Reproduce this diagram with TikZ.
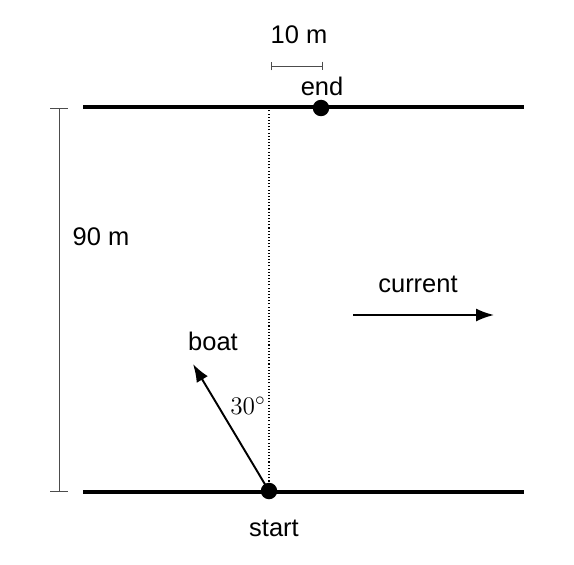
\documentclass[tikz,border=0pt]{standalone}
\usepackage{fontspec}
\setmainfont{Liberation Sans}
\usepackage{tikz}
\usetikzlibrary{arrows.meta,positioning,calc}
\tikzset{
  lbl/.style={font=\fontsize{14.5}{17}\selectfont, inner sep=1pt},
  bank/.style={line width=2.3pt},
  dot/.style={circle, fill=black, inner sep=0pt, minimum size=0.33cm},
  scalebar/.style={line width=0.5pt, black!70},
  guide/.style={dash pattern=on 0.6pt off 1.2pt, line width=0.6pt},
  arrow/.style={-{Latex[length=3.6mm, width=2.6mm]}, line width=1.1pt}
}

\begin{document}
\begin{tikzpicture}[x=0.02cm, y=-0.02cm]
    \useasboundingbox (0,0) rectangle (574,564);
    % River banks
    \coordinate (tl) at (83,107);
    \coordinate (tr) at (524,107);
    \coordinate (bl) at (83,492);
    \coordinate (br) at (524,492);
    \draw[bank] (tl) -- (tr);
    \draw[bank] (bl) -- (br);
    % Start and end points
    \node[dot] (start) at (269,491) {};
    \node[dot] (end) at (321,108) {};
    \node[lbl] (startlbl) at (274,528) {start};
    \node[lbl] (endlbl) at (322,86) {end};
    \coordinate (across) at (269,108);
    \draw[guide] (start.center) -- (across);
    % Scale bars
    \coordinate (s1) at (271,66);
    \coordinate (s2) at (323,66);
    \draw[scalebar, {Bar[width=5pt]}-{Bar[width=5pt]}] (s1) -- (s2);
    \node[lbl] (tenm) at (299,35) {10 m};
    \coordinate (h1) at (59,108);
    \coordinate (h2) at (59,492);
    \draw[scalebar, {Bar[width=10pt]}-{Bar[width=10pt]}] (h1) -- (h2);
    \node[lbl] (ninetym) at (101,237) {90 m};
    % Boat heading
    \coordinate (boattip) at (193,364);
    \draw[arrow] (start.center) -- (boattip);
    \node[lbl] (boatlbl) at (213,341) {boat};
    \node[font=\fontsize{15.5}{18}\selectfont, inner sep=1pt] (angle) at (248,406) {$30^\circ$};
    % Current
    \coordinate (c1) at (353,315);
    \coordinate (c2) at (494,315);
    \draw[arrow] (c1) -- (c2);
    \node[lbl] (currentlbl) at (418,284) {current};
\end{tikzpicture}
\end{document}
